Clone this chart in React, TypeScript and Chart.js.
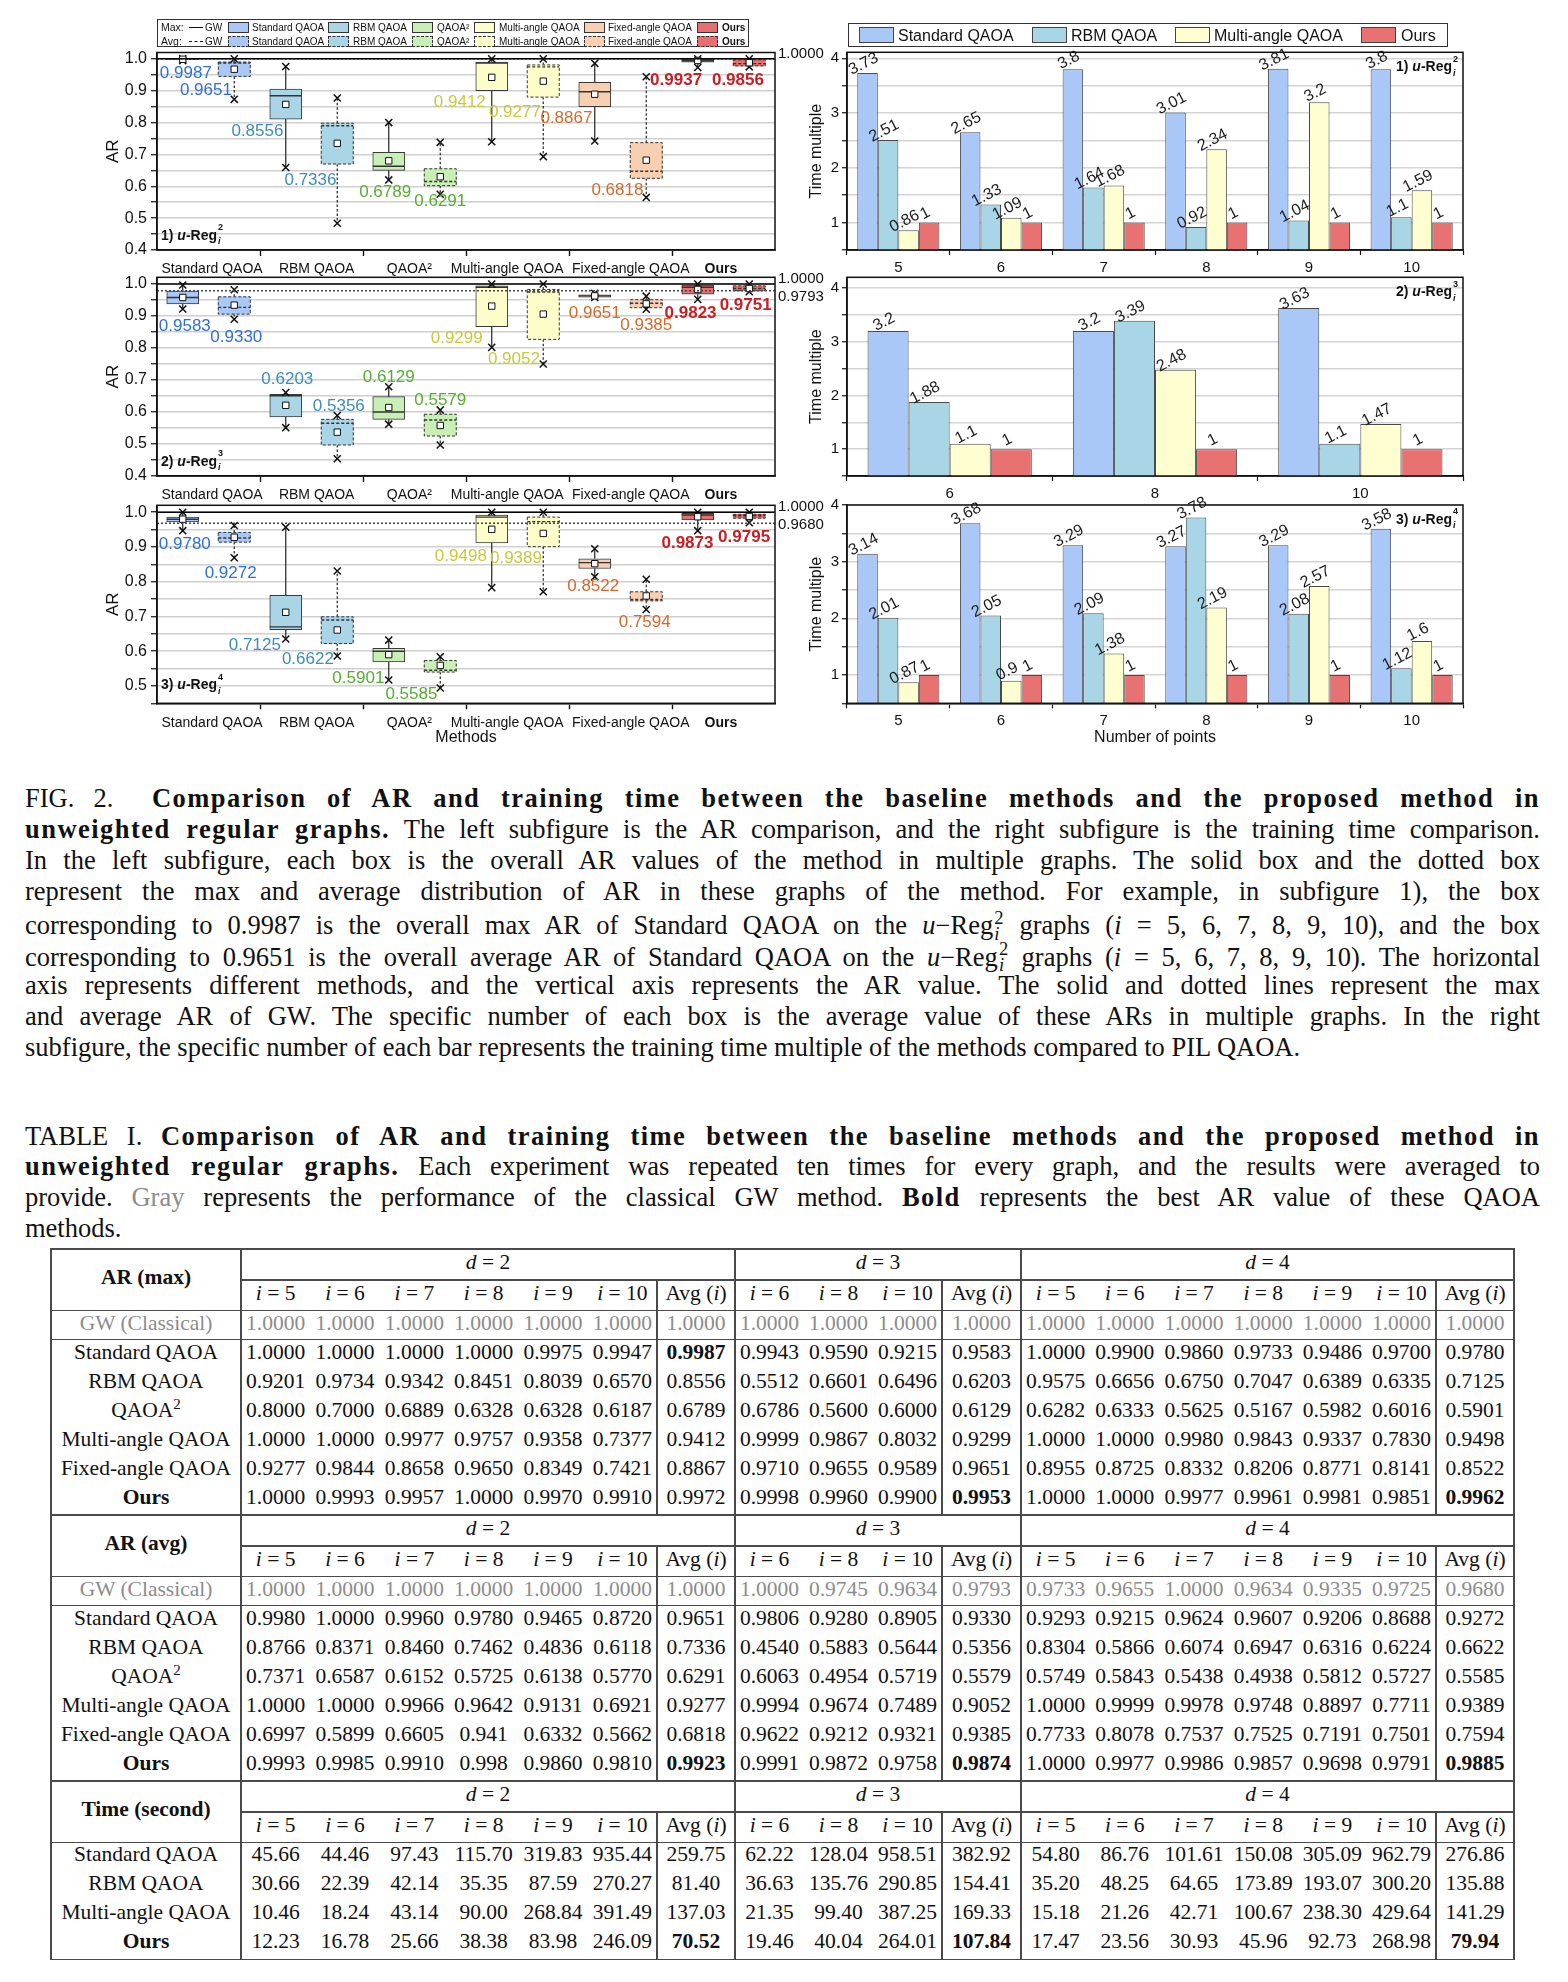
import React, { useEffect, useRef } from 'react';
import { Chart, registerables } from 'chart.js';

Chart.register(...registerables);

const SANS = '"Liberation Sans", Arial, Helvetica, sans-serif';
const SERIF = '"Liberation Serif", "Times New Roman", Times, serif';

/* ================= Figure data ================= */
const methods = ['Standard QAOA', 'RBM QAOA', 'QAOA²', 'Multi-angle QAOA', 'Fixed-angle QAOA', 'Ours'];
const methodBoxColors = ['#a9c8f5', '#a9d5e7', '#c8efb5', '#fdfdca', '#f8cfb0', '#e86f6f'];
const methodLabelColors = ['#2f6fd6', '#3d8db5', '#58ad33', '#c9c93c', '#d5692c', '#c62026'];

// box statistics per method: [min, q1, median, q3, max, mean]
const reg2MaxBoxes = [
  [0.9947, 0.998, 1.0, 1.0, 1.0, 0.9987],
  [0.659, 0.811, 0.884, 0.905, 0.976, 0.857],
  [0.62, 0.65, 0.663, 0.707, 0.8, 0.68],
  [0.74, 0.9, 0.987, 0.99, 1.0, 0.942],
  [0.742, 0.85, 0.897, 0.926, 0.986, 0.889],
  [0.973, 0.99, 0.995, 1.0, 1.0, 0.995],
];
const reg2AvgBoxes = [
  [0.873, 0.945, 0.987, 0.99, 1.0, 0.9675],
  [0.484, 0.67, 0.79, 0.798, 0.877, 0.735],
  [0.575, 0.602, 0.615, 0.655, 0.738, 0.63],
  [0.693, 0.88, 0.975, 0.981, 1.0, 0.93],
  [0.565, 0.625, 0.647, 0.737, 0.944, 0.682],
  [0.975, 0.978, 0.985, 0.997, 1.0, 0.988],
];
const reg3MaxBoxes = [
  [0.922, 0.9375, 0.958, 0.978, 0.997, 0.958],
  [0.551, 0.585, 0.651, 0.655, 0.661, 0.621],
  [0.562, 0.577, 0.6, 0.648, 0.679, 0.614],
  [0.802, 0.867, 0.99, 0.994, 1.0, 0.931],
  [0.958, 0.959, 0.963, 0.966, 0.971, 0.963],
  [0.952, 0.968, 0.99, 0.997, 1.0, 0.983],
];
const reg3AvgBoxes = [
  [0.89, 0.906, 0.927, 0.96, 0.982, 0.934],
  [0.454, 0.497, 0.565, 0.577, 0.589, 0.537],
  [0.497, 0.525, 0.575, 0.593, 0.606, 0.558],
  [0.75, 0.827, 0.975, 0.983, 1.0, 0.906],
  [0.921, 0.926, 0.94, 0.951, 0.962, 0.938],
  [0.976, 0.979, 0.986, 0.994, 1.0, 0.986],
];
const reg4MaxBoxes = [
  [0.947, 0.972, 0.98, 0.986, 1.0, 0.98],
  [0.635, 0.662, 0.67, 0.761, 0.957, 0.712],
  [0.517, 0.569, 0.6, 0.608, 0.632, 0.59],
  [0.783, 0.912, 0.986, 0.992, 1.0, 0.951],
  [0.814, 0.838, 0.855, 0.866, 0.895, 0.852],
  [0.947, 0.978, 0.992, 0.997, 1.0, 0.987],
];
const reg4AvgBoxes = [
  [0.869, 0.914, 0.926, 0.942, 0.962, 0.928],
  [0.586, 0.622, 0.69, 0.699, 0.831, 0.661],
  [0.494, 0.54, 0.545, 0.573, 0.584, 0.559],
  [0.771, 0.901, 0.973, 0.986, 1.0, 0.939],
  [0.72, 0.745, 0.749, 0.771, 0.807, 0.759],
  [0.97, 0.983, 0.99, 0.994, 1.0, 0.988],
];

const reg2MaxLabels = ['0.9987', '0.8556', '0.6789', '0.9412', '0.8867', '0.9937'];
const reg2AvgLabels = ['0.9651', '0.7336', '0.6291', '0.9277', '0.6818', '0.9856'];
const reg3MaxLabels = ['0.9583', '0.6203', '0.6129', '0.9299', '0.9651', '0.9823'];
const reg3AvgLabels = ['0.9330', '0.5356', '0.5579', '0.9052', '0.9385', '0.9751'];
const reg4MaxLabels = ['0.9780', '0.7125', '0.5901', '0.9498', '0.8522', '0.9873'];
const reg4AvgLabels = ['0.9272', '0.6622', '0.5585', '0.9389', '0.7594', '0.9795'];

const gwMaxAR = [1.0, 1.0, 1.0];
const gwAvgAR = [1.0, 0.9793, 0.968];
const gwMaxText = ['1.0000', '1.0000', '1.0000'];
const gwAvgText = ['', '0.9793', '0.9680'];

const timeSeries = ['Standard QAOA', 'RBM QAOA', 'Multi-angle QAOA', 'Ours'];
const timeColors = ['#aac8f7', '#a9d6e6', '#fefed0', '#e87171'];
const reg2Points = ['5', '6', '7', '8', '9', '10'];
const reg2TimeStandard = [3.73, 2.65, 3.8, 3.01, 3.81, 3.8];
const reg2TimeRBM = [2.51, 1.33, 1.64, 0.92, 1.04, 1.1];
const reg2TimeMulti = [0.86, 1.09, 1.68, 2.34, 3.2, 1.59];
const reg2TimeOurs = [1, 1, 1, 1, 1, 1];
const reg3Points = ['6', '8', '10'];
const reg3TimeStandard = [3.2, 3.2, 3.63];
const reg3TimeRBM = [1.88, 3.39, 1.1];
const reg3TimeMulti = [1.1, 2.48, 1.47];
const reg3TimeOurs = [1, 1, 1];
const reg4Points = ['5', '6', '7', '8', '9', '10'];
const reg4TimeStandard = [3.14, 3.68, 3.29, 3.27, 3.29, 3.58];
const reg4TimeRBM = [2.01, 2.05, 2.09, 3.78, 2.08, 1.12];
const reg4TimeMulti = [0.87, 0.9, 1.38, 2.19, 2.57, 1.6];
const reg4TimeOurs = [1, 1, 1, 1, 1, 1];

/* ================= Table data ("*" = bold) ================= */
const d2Points = [5, 6, 7, 8, 9, 10];
const d3Points = [6, 8, 10];
const d4Points = [5, 6, 7, 8, 9, 10];

const arMaxGW = ['GW (Classical)', '1.0000', '1.0000', '1.0000', '1.0000', '1.0000', '1.0000', '1.0000', '1.0000', '1.0000', '1.0000', '1.0000', '1.0000', '1.0000', '1.0000', '1.0000', '1.0000', '1.0000', '1.0000'];
const arMaxRows = [
  ['Standard QAOA', '1.0000', '1.0000', '1.0000', '1.0000', '0.9975', '0.9947', '0.9987*', '0.9943', '0.9590', '0.9215', '0.9583', '1.0000', '0.9900', '0.9860', '0.9733', '0.9486', '0.9700', '0.9780'],
  ['RBM QAOA', '0.9201', '0.9734', '0.9342', '0.8451', '0.8039', '0.6570', '0.8556', '0.5512', '0.6601', '0.6496', '0.6203', '0.9575', '0.6656', '0.6750', '0.7047', '0.6389', '0.6335', '0.7125'],
  ['QAOA²', '0.8000', '0.7000', '0.6889', '0.6328', '0.6328', '0.6187', '0.6789', '0.6786', '0.5600', '0.6000', '0.6129', '0.6282', '0.6333', '0.5625', '0.5167', '0.5982', '0.6016', '0.5901'],
  ['Multi-angle QAOA', '1.0000', '1.0000', '0.9977', '0.9757', '0.9358', '0.7377', '0.9412', '0.9999', '0.9867', '0.8032', '0.9299', '1.0000', '1.0000', '0.9980', '0.9843', '0.9337', '0.7830', '0.9498'],
  ['Fixed-angle QAOA', '0.9277', '0.9844', '0.8658', '0.9650', '0.8349', '0.7421', '0.8867', '0.9710', '0.9655', '0.9589', '0.9651', '0.8955', '0.8725', '0.8332', '0.8206', '0.8771', '0.8141', '0.8522'],
  ['Ours', '1.0000', '0.9993', '0.9957', '1.0000', '0.9970', '0.9910', '0.9972', '0.9998', '0.9960', '0.9900', '0.9953*', '1.0000', '1.0000', '0.9977', '0.9961', '0.9981', '0.9851', '0.9962*'],
];
const arAvgGW = ['GW (Classical)', '1.0000', '1.0000', '1.0000', '1.0000', '1.0000', '1.0000', '1.0000', '1.0000', '0.9745', '0.9634', '0.9793', '0.9733', '0.9655', '1.0000', '0.9634', '0.9335', '0.9725', '0.9680'];
const arAvgRows = [
  ['Standard QAOA', '0.9980', '1.0000', '0.9960', '0.9780', '0.9465', '0.8720', '0.9651', '0.9806', '0.9280', '0.8905', '0.9330', '0.9293', '0.9215', '0.9624', '0.9607', '0.9206', '0.8688', '0.9272'],
  ['RBM QAOA', '0.8766', '0.8371', '0.8460', '0.7462', '0.4836', '0.6118', '0.7336', '0.4540', '0.5883', '0.5644', '0.5356', '0.8304', '0.5866', '0.6074', '0.6947', '0.6316', '0.6224', '0.6622'],
  ['QAOA²', '0.7371', '0.6587', '0.6152', '0.5725', '0.6138', '0.5770', '0.6291', '0.6063', '0.4954', '0.5719', '0.5579', '0.5749', '0.5843', '0.5438', '0.4938', '0.5812', '0.5727', '0.5585'],
  ['Multi-angle QAOA', '1.0000', '1.0000', '0.9966', '0.9642', '0.9131', '0.6921', '0.9277', '0.9994', '0.9674', '0.7489', '0.9052', '1.0000', '0.9999', '0.9978', '0.9748', '0.8897', '0.7711', '0.9389'],
  ['Fixed-angle QAOA', '0.6997', '0.5899', '0.6605', '0.941', '0.6332', '0.5662', '0.6818', '0.9622', '0.9212', '0.9321', '0.9385', '0.7733', '0.8078', '0.7537', '0.7525', '0.7191', '0.7501', '0.7594'],
  ['Ours', '0.9993', '0.9985', '0.9910', '0.998', '0.9860', '0.9810', '0.9923*', '0.9991', '0.9872', '0.9758', '0.9874*', '1.0000', '0.9977', '0.9986', '0.9857', '0.9698', '0.9791', '0.9885*'],
];
const timeRows = [
  ['Standard QAOA', '45.66', '44.46', '97.43', '115.70', '319.83', '935.44', '259.75', '62.22', '128.04', '958.51', '382.92', '54.80', '86.76', '101.61', '150.08', '305.09', '962.79', '276.86'],
  ['RBM QAOA', '30.66', '22.39', '42.14', '35.35', '87.59', '270.27', '81.40', '36.63', '135.76', '290.85', '154.41', '35.20', '48.25', '64.65', '173.89', '193.07', '300.20', '135.88'],
  ['Multi-angle QAOA', '10.46', '18.24', '43.14', '90.00', '268.84', '391.49', '137.03', '21.35', '99.40', '387.25', '169.33', '15.18', '21.26', '42.71', '100.67', '238.30', '429.64', '141.29'],
  ['Ours', '12.23', '16.78', '25.66', '38.38', '83.98', '246.09', '70.52*', '19.46', '40.04', '264.01', '107.84*', '17.47', '23.56', '30.93', '45.96', '92.73', '268.98', '79.94*'],
];

/* ================= Layout (positions, not data) ================= */
const LEFT_CANVAS_X = 95;
const LEFT_CANVAS_W = 740;
const PLOT_LEFT = 157;
const PLOT_RIGHT = 775;
const RIGHT_CANVAS_X = 795;
const RIGHT_CANVAS_W = 673;
const BAR_LEFT = 847;
const BAR_RIGHT = 1463;
const panelFrames = [
  { top: 30, areaTop: 52.5, areaBottom: 250, bottom: 280, tagLift: 14 },
  { top: 262, areaTop: 277.3, areaBottom: 476, bottom: 506, tagLift: 14 },
  { top: 490, areaTop: 505.3, areaBottom: 703.3, bottom: 752, tagLift: 18 },
];
const methodLabelAnchors = [1.07, 3.1, 4.9, 6.8, 9.2, 10.95];
const groupTicks = [2, 4, 6, 8, 10];
// value-label anchors per slot: [x offset in slots, y in AR units]
const reg2LabelPos = [[0.06, 0.955], [-0.55, 0.9], [-0.55, 0.772], [-0.52, 0.618], [-0.07, 0.58], [0, 0.552], [-0.62, 0.864], [-0.55, 0.833], [-0.55, 0.812], [-0.56, 0.588], [-0.42, 0.932], [-0.22, 0.932]];
const reg3LabelPos = [[0.04, 0.867], [0.04, 0.835], [0.03, 0.703], [0.03, 0.617], [0, 0.708], [0, 0.637], [-0.68, 0.83], [-0.57, 0.766], [0, 0.91], [0, 0.87], [-0.14, 0.908], [-0.07, 0.934]];
const reg4LabelPos = [[0.04, 0.909], [-0.07, 0.825], [-0.6, 0.616], [-0.57, 0.577], [-0.59, 0.521], [-0.56, 0.476], [-0.6, 0.874], [-0.53, 0.866], [-0.03, 0.786], [-0.03, 0.684], [-0.2, 0.911], [-0.1, 0.927]];

function drawTag(ctx: CanvasRenderingContext2D, x: number, y: number, num: string, deg: string, anchor: 'left' | 'right') {
  ctx.save();
  ctx.fillStyle = '#111';
  ctx.textBaseline = 'middle';
  ctx.textAlign = 'left';
  const parts: [string, string][] = [
    [num + ') ', `bold 14px ${SANS}`],
    ['u', `italic bold 14px ${SANS}`],
    ['-Reg', `bold 14px ${SANS}`],
  ];
  let total = 0;
  parts.forEach(([t, f]) => { ctx.font = f; total += ctx.measureText(t).width; });
  total += 7;
  let cx = anchor === 'left' ? x : x - total;
  parts.forEach(([t, f]) => { ctx.font = f; ctx.fillText(t, cx, y); cx += ctx.measureText(t).width; });
  ctx.font = `bold 9px ${SANS}`;
  ctx.fillText(deg, cx + 1, y - 8);
  ctx.font = `italic bold 9px ${SANS}`;
  ctx.fillText('i', cx + 1, y + 6);
  ctx.restore();
}

function boxChartConfig(p: any) {
  const fr = p.frame;
  const areaLeft = PLOT_LEFT - LEFT_CANVAS_X;
  const padRight = LEFT_CANVAS_X + LEFT_CANVAS_W - PLOT_RIGHT;
  const slot = (k: number, avg: boolean) => 2 * k + (avg ? 1.5 : 0.5);
  const bars = (arr: number[][], avg: boolean) => arr.map((b, k) => ({ x: slot(k, avg), y: [b[1], b[3]] }));
  const ends: any[] = [];
  const means: any[] = [];
  [p.maxBoxes, p.avgBoxes].forEach((arr: number[][], a: number) =>
    arr.forEach((b, k) => {
      ends.push({ x: slot(k, a === 1), y: b[0] }, { x: slot(k, a === 1), y: b[4] });
      means.push({ x: slot(k, a === 1), y: b[5] });
    })
  );
  const xTicks = [...methodLabelAnchors, ...groupTicks].sort((a, b) => a - b);
  const HALF = 16;

  const plugin = {
    id: 'boxExtras',
    beforeDatasetsDraw(chart: any) {
      const { ctx, scales } = chart;
      const x = scales.x, y = scales.y;
      ctx.save();
      [p.maxBoxes, p.avgBoxes].forEach((arr: number[][], a: number) => {
        arr.forEach((b, k) => {
          const px = x.getPixelForValue(slot(k, a === 1));
          ctx.strokeStyle = '#222';
          ctx.lineWidth = 1.2;
          ctx.setLineDash(a === 1 ? [2.5, 2] : []);
          ctx.beginPath();
          ctx.moveTo(px, y.getPixelForValue(b[1]));
          ctx.lineTo(px, y.getPixelForValue(b[0]));
          ctx.moveTo(px, y.getPixelForValue(b[3]));
          ctx.lineTo(px, y.getPixelForValue(b[4]));
          ctx.stroke();
        });
      });
      ctx.restore();
    },
    afterDatasetDraw(chart: any, args: any) {
      if (args.index > 1) return;
      const avg = args.index === 1;
      const arr = avg ? p.avgBoxes : p.maxBoxes;
      const { ctx, scales } = chart;
      const x = scales.x, y = scales.y;
      ctx.save();
      arr.forEach((b: number[], k: number) => {
        const px = x.getPixelForValue(slot(k, avg));
        const t = y.getPixelForValue(b[3]);
        const bt = y.getPixelForValue(b[1]);
        const m = y.getPixelForValue(b[2]);
        ctx.strokeStyle = '#333';
        if (avg) {
          ctx.lineWidth = 1;
          ctx.setLineDash([3, 2]);
          ctx.strokeRect(px - HALF, t, HALF * 2, bt - t);
        }
        ctx.lineWidth = 1.4;
        ctx.setLineDash(avg ? [3, 2] : []);
        ctx.beginPath();
        ctx.moveTo(px - HALF, m);
        ctx.lineTo(px + HALF, m);
        ctx.stroke();
      });
      ctx.restore();
    },
    afterDatasetsDraw(chart: any) {
      const { ctx, scales, chartArea: a } = chart;
      const x = scales.x, y = scales.y;
      ctx.save();
      const yMax = y.getPixelForValue(p.gwMax);
      const yAvg = y.getPixelForValue(p.gwAvg);
      ctx.strokeStyle = '#444';
      ctx.lineWidth = 1.5;
      ctx.setLineDash([2, 2]);
      ctx.beginPath();
      ctx.moveTo(a.left, yAvg);
      ctx.lineTo(a.right, yAvg);
      ctx.stroke();
      ctx.setLineDash([]);
      ctx.strokeStyle = '#000';
      ctx.beginPath();
      ctx.moveTo(a.left, yMax);
      ctx.lineTo(a.right, yMax);
      ctx.stroke();
      ctx.strokeStyle = '#111';
      ctx.lineWidth = 1.5;
      ctx.strokeRect(a.left, a.top, a.right - a.left, a.bottom - a.top);
      ctx.font = `15px ${SANS}`;
      ctx.fillStyle = '#111';
      ctx.textAlign = 'left';
      ctx.textBaseline = 'middle';
      const l1 = yMax - 5;
      ctx.fillText(p.gwMaxText, a.right + 3, l1);
      if (p.gwAvgText) ctx.fillText(p.gwAvgText, a.right + 3, l1 + 18);
      ctx.textAlign = 'center';
      for (let s = 0; s < 12; s++) {
        const k = Math.floor(s / 2);
        const avg = s % 2 === 1;
        const text = avg ? p.avgLabels[k] : p.maxLabels[k];
        const [dx, yv] = p.labelPos[s];
        ctx.font = `${k === 5 ? 'bold ' : ''}17px ${SANS}`;
        ctx.fillStyle = methodLabelColors[k];
        ctx.fillText(text, x.getPixelForValue(s + 0.5 + dx), y.getPixelForValue(yv));
      }
      drawTag(ctx, a.left + 4, a.bottom - fr.tagLift, p.num, p.deg, 'left');
      ctx.restore();
    },
  };

  return {
    type: 'bar',
    data: {
      datasets: [
        { type: 'bar', label: 'max', data: bars(p.maxBoxes, false), backgroundColor: methodBoxColors, borderColor: '#3a3a3a', borderWidth: 1, borderSkipped: false, barThickness: HALF * 2, grouped: false, order: 3 },
        { type: 'bar', label: 'avg', data: bars(p.avgBoxes, true), backgroundColor: methodBoxColors, borderWidth: 0, barThickness: HALF * 2, grouped: false, order: 2 },
        { type: 'scatter', label: 'ends', data: ends, showLine: false, pointStyle: 'crossRot', pointRadius: 5, pointBorderColor: '#111', pointBorderWidth: 1.5, pointBackgroundColor: '#111', order: 1 },
        { type: 'scatter', label: 'mean', data: means, showLine: false, pointStyle: 'rect', pointRadius: 4.5, pointBorderColor: '#111', pointBorderWidth: 1, pointBackgroundColor: '#fff', order: 0 },
      ],
    },
    options: {
      animation: false,
      responsive: false,
      events: [],
      layout: { padding: { top: fr.areaTop - fr.top, right: padRight, left: 0, bottom: 0 } },
      plugins: { legend: { display: false }, tooltip: { enabled: false } },
      scales: {
        x: {
          type: 'linear',
          min: 0,
          max: 12,
          offset: false,
          afterFit: (s: any) => { s.height = fr.bottom - fr.areaBottom; },
          afterBuildTicks: (s: any) => { s.ticks = xTicks.map((v) => ({ value: v })); },
          ticks: {
            autoSkip: false,
            maxRotation: 0,
            minRotation: 0,
            padding: 5,
            color: '#111',
            font: (c: any) => ({ family: SANS, size: 14, weight: c.tick && c.tick.value === methodLabelAnchors[5] ? 'bold' : 'normal' }),
            callback: (v: number) => { const i = methodLabelAnchors.indexOf(v); return i >= 0 ? methods[i] : ''; },
          },
          grid: {
            offset: false,
            drawOnChartArea: false,
            tickLength: 6,
            tickWidth: 1.4,
            tickColor: (c: any) => (c.tick && groupTicks.includes(c.tick.value) ? '#111' : 'rgba(0,0,0,0)'),
          },
          border: { color: '#111', width: 1.5 },
          title: p.showTitle
            ? { display: true, text: 'Methods', color: '#111', font: { family: SANS, size: 16 }, padding: { top: 0, bottom: 4.4 } }
            : { display: false },
        },
        y: {
          type: 'linear',
          min: p.yMin,
          max: p.yMax,
          afterFit: (s: any) => { s.width = areaLeft; },
          ticks: {
            autoSkip: false,
            stepSize: 0.05,
            includeBounds: false,
            padding: 4,
            color: '#111',
            font: { family: SANS, size: 16 },
            callback: (v: number) => { const t = Math.round(v * 100); return t % 10 === 0 ? (t / 100).toFixed(1) : ''; },
          },
          grid: { color: '#cfcfcf', lineWidth: 1.5, tickLength: 6, tickWidth: 1.2, tickColor: '#111' },
          border: { color: '#111', width: 1.5 },
          title: { display: true, text: 'AR', color: '#111', font: { family: SANS, size: 17 }, padding: { top: 8, bottom: 0 } },
        },
      },
    },
    plugins: [plugin],
  };
}

function barChartConfig(p: any) {
  const fr = p.frame;
  const plugin = {
    id: 'barExtras',
    afterDatasetsDraw(chart: any) {
      const { ctx, chartArea: a } = chart;
      ctx.save();
      ctx.font = `16px ${SANS}`;
      ctx.fillStyle = '#1a1a1a';
      ctx.textAlign = 'center';
      ctx.textBaseline = 'middle';
      chart.data.datasets.forEach((ds: any, di: number) => {
        chart.getDatasetMeta(di).data.forEach((el: any, i: number) => {
          ctx.save();
          ctx.translate(el.x - 4, el.y - 9);
          ctx.rotate((-27 * Math.PI) / 180);
          ctx.fillText(String(ds.data[i]), 0, 0);
          ctx.restore();
        });
      });
      ctx.strokeStyle = '#111';
      ctx.lineWidth = 1.5;
      ctx.strokeRect(a.left, a.top, a.right - a.left, a.bottom - a.top);
      drawTag(ctx, a.right - 4, a.top + 15, p.num, p.deg, 'right');
      ctx.restore();
    },
  };
  return {
    type: 'bar',
    data: {
      labels: p.points,
      datasets: p.series.map((vals: number[], i: number) => ({
        label: timeSeries[i],
        data: vals,
        backgroundColor: timeColors[i],
        borderColor: '#4a4a4a',
        borderWidth: 1,
        borderSkipped: 'start',
      })),
    },
    options: {
      animation: false,
      responsive: false,
      events: [],
      layout: { padding: { top: fr.areaTop - fr.top, right: RIGHT_CANVAS_X + RIGHT_CANVAS_W - BAR_RIGHT, left: 0, bottom: 0 } },
      plugins: { legend: { display: false }, tooltip: { enabled: false } },
      datasets: { bar: { categoryPercentage: 0.8, barPercentage: 1.0 } },
      scales: {
        x: {
          type: 'category',
          afterFit: (s: any) => { s.height = fr.bottom - fr.areaBottom; },
          ticks: { autoSkip: false, maxRotation: 0, padding: 4, color: '#111', font: { family: SANS, size: 15 } },
          grid: { offset: true, drawOnChartArea: false, tickLength: 5, tickWidth: 1.2, tickColor: '#111' },
          border: { color: '#111', width: 1.5 },
          title: p.showTitle
            ? { display: true, text: 'Number of points', color: '#111', font: { family: SANS, size: 16 }, padding: { top: 0, bottom: 4.4 } }
            : { display: false },
        },
        y: {
          type: 'linear',
          min: 0.5,
          max: p.yMax,
          afterFit: (s: any) => { s.width = BAR_LEFT - RIGHT_CANVAS_X; },
          ticks: {
            autoSkip: false,
            stepSize: 0.5,
            includeBounds: false,
            padding: 3,
            color: '#111',
            font: { family: SANS, size: 15 },
            callback: (v: number) => (Number.isInteger(v) ? String(v) : ''),
          },
          grid: { color: '#d4d4d4', lineWidth: 1.5, tickLength: 5, tickWidth: 1.2, tickColor: '#111' },
          border: { color: '#111', width: 1.5 },
          title: { display: true, text: 'Time multiple', color: '#111', font: { family: SANS, size: 16 }, padding: { top: 12, bottom: 0 } },
        },
      },
    },
    plugins: [plugin],
  };
}

const boxPanels = [
  { maxBoxes: reg2MaxBoxes, avgBoxes: reg2AvgBoxes, maxLabels: reg2MaxLabels, avgLabels: reg2AvgLabels, labelPos: reg2LabelPos, gwMax: gwMaxAR[0], gwAvg: gwAvgAR[0], gwMaxText: gwMaxText[0], gwAvgText: gwAvgText[0], yMin: 0.4, yMax: 1.02, num: '1', deg: '2', frame: panelFrames[0], showTitle: false },
  { maxBoxes: reg3MaxBoxes, avgBoxes: reg3AvgBoxes, maxLabels: reg3MaxLabels, avgLabels: reg3AvgLabels, labelPos: reg3LabelPos, gwMax: gwMaxAR[1], gwAvg: gwAvgAR[1], gwMaxText: gwMaxText[1], gwAvgText: gwAvgText[1], yMin: 0.4, yMax: 1.021, num: '2', deg: '3', frame: panelFrames[1], showTitle: false },
  { maxBoxes: reg4MaxBoxes, avgBoxes: reg4AvgBoxes, maxLabels: reg4MaxLabels, avgLabels: reg4AvgLabels, labelPos: reg4LabelPos, gwMax: gwMaxAR[2], gwAvg: gwAvgAR[2], gwMaxText: gwMaxText[2], gwAvgText: gwAvgText[2], yMin: 0.45, yMax: 1.02, num: '3', deg: '4', frame: panelFrames[2], showTitle: true },
];

const barPanels = [
  { points: reg2Points, series: [reg2TimeStandard, reg2TimeRBM, reg2TimeMulti, reg2TimeOurs], yMax: 4.11, num: '1', deg: '2', frame: { top: 30, areaTop: 52.3, areaBottom: 250, bottom: 280 }, showTitle: false },
  { points: reg3Points, series: [reg3TimeStandard, reg3TimeRBM, reg3TimeMulti, reg3TimeOurs], yMax: 4.2, num: '2', deg: '3', frame: { top: 262, areaTop: 277.3, areaBottom: 476, bottom: 506 }, showTitle: false },
  { points: reg4Points, series: [reg4TimeStandard, reg4TimeRBM, reg4TimeMulti, reg4TimeOurs], yMax: 4.0, num: '3', deg: '4', frame: { top: 490, areaTop: 505, areaBottom: 703.3, bottom: 752 }, showTitle: true },
];

function ChartCanvas({ left, top, width, height, make }: any) {
  const ref = useRef<HTMLCanvasElement>(null);
  useEffect(() => {
    const chart = new Chart(ref.current as HTMLCanvasElement, make());
    return () => chart.destroy();
  }, []);
  return <canvas ref={ref} width={width} height={height} style={{ position: 'absolute', left, top, width, height }} />;
}

/* ================= Legends ================= */
function LeftLegend() {
  const sw = [70, 170, 254, 316, 426, 539];
  const tx = [94, 195, 279, 341, 450, 564];
  const rows = [
    { label: 'Max:', dash: false, y: 7 },
    { label: 'Avg:', dash: true, y: 21.5 },
  ];
  return (
    <div style={{ position: 'absolute', left: 157, top: 19, width: 592, height: 28, border: '1px solid #333', boxSizing: 'border-box', fontFamily: SANS, fontSize: 10, color: '#111', background: '#fff' }}>
      {rows.map((r, ri) => (
        <React.Fragment key={ri}>
          <span style={{ position: 'absolute', left: 3, top: r.y - 6.5, fontSize: 10.5, lineHeight: '13px' }}>{r.label}</span>
          <span style={{ position: 'absolute', left: 31, top: r.y - 0.5, width: 14, height: 0, borderTop: r.dash ? '1px dashed #111' : '1.3px solid #111' }} />
          <span style={{ position: 'absolute', left: 47, top: r.y - 6.5, lineHeight: '13px' }}>GW</span>
          {methods.map((m, k) => (
            <React.Fragment key={k}>
              <span style={{ position: 'absolute', left: sw[k], top: r.y - 5.5, width: 21, height: 11, boxSizing: 'border-box', background: methodBoxColors[k], border: r.dash ? '1px dashed #333' : '1px solid #333' }} />
              <span style={{ position: 'absolute', left: tx[k], top: r.y - 6.5, lineHeight: '13px', fontWeight: k === 5 ? 'bold' : 'normal' }}>{m}</span>
            </React.Fragment>
          ))}
        </React.Fragment>
      ))}
    </div>
  );
}

function RightLegend() {
  const sw = [10, 183, 326, 512];
  const tx = [49, 222, 365, 552];
  return (
    <div style={{ position: 'absolute', left: 848, top: 23, width: 600, height: 24, border: '1px solid #333', boxSizing: 'border-box', fontFamily: SANS, fontSize: 16, color: '#111', background: '#fff' }}>
      {timeSeries.map((s, k) => (
        <React.Fragment key={k}>
          <span style={{ position: 'absolute', left: sw[k], top: 3, width: 35, height: 16, boxSizing: 'border-box', background: timeColors[k], border: '1px solid #444' }} />
          <span style={{ position: 'absolute', left: tx[k], top: 1.5, lineHeight: '19px' }}>{s}</span>
        </React.Fragment>
      ))}
    </div>
  );
}

/* ================= Captions ================= */
const CAP_LEFT = 25;
const CAP_WIDTH = 1515;
const CAP_FONT = 26.5;

const Scr = ({ sup, sub }: any) => (
  <span style={{ position: 'relative', display: 'inline-block', width: '0.42em', height: '1em' }}>
    <span style={{ position: 'absolute', left: '0.06em', top: '0.09em', fontSize: '0.7em', lineHeight: 1 }}>{sup}</span>
    <span style={{ position: 'absolute', left: '0.06em', top: '0.95em', fontSize: '0.7em', lineHeight: 1, fontStyle: 'italic' }}>{sub}</span>
  </span>
);
const B = ({ children }: any) => <b style={{ letterSpacing: '0.055em' }}>{children}</b>;
const UReg = () => (<><i>u</i>−Reg<Scr sup="2" sub="i" /></>);

function CaptionLines({ lines, top, step, lastJustified }: any) {
  return (
    <>
      {lines.map((ln: any, i: number) => {
        const last = i === lines.length - 1 && !lastJustified;
        return (
          <div key={i} style={{ position: 'absolute', left: CAP_LEFT, width: CAP_WIDTH, top: top + i * step - step / 2 - 2, height: step, lineHeight: step + 'px', fontSize: CAP_FONT, fontFamily: SERIF, color: '#111', textAlign: last ? 'left' : 'justify', textAlignLast: last ? 'left' : 'justify', whiteSpace: 'normal' } as any}>
            {ln}
          </div>
        );
      })}
    </>
  );
}

const figLines = [
  <>FIG. 2.&nbsp;&nbsp;<B>Comparison of AR and training time between the baseline methods and the proposed method in</B></>,
  <><B>unweighted regular graphs.</B> The left subfigure is the AR comparison, and the right subfigure is the training time comparison.</>,
  <>In the left subfigure, each box is the overall AR values of the method in multiple graphs. The solid box and the dotted box</>,
  <>represent the max and average distribution of AR in these graphs of the method. For example, in subfigure 1), the box</>,
  <>corresponding to 0.9987 is the overall max AR of Standard QAOA on the <UReg /> graphs (<i>i</i> = 5, 6, 7, 8, 9, 10), and the box</>,
  <>corresponding to 0.9651 is the overall average AR of Standard QAOA on the <UReg /> graphs (<i>i</i> = 5, 6, 7, 8, 9, 10). The horizontal</>,
  <>axis represents different methods, and the vertical axis represents the AR value. The solid and dotted lines represent the max</>,
  <>and average AR of GW. The specific number of each box is the average value of these ARs in multiple graphs. In the right</>,
  <>subfigure, the specific number of each bar represents the training time multiple of the methods compared to PIL QAOA.</>,
];

const tableLines = [
  <>TABLE I. <B>Comparison of AR and training time between the baseline methods and the proposed method in</B></>,
  <><B>unweighted regular graphs.</B> Each experiment was repeated ten times for every graph, and the results were averaged to</>,
  <>provide. <span style={{ color: '#8c8c8c' }}>Gray</span> represents the performance of the classical GW method. <B>Bold</B> represents the best AR value of these QAOA</>,
  <>methods.</>,
];

/* ================= Table ================= */
const COL_EDGES = [51, 241, 310.3, 379.7, 449, 518.3, 587.7, 657, 735, 804, 873, 942, 1021, 1090.2, 1159.4, 1228.6, 1297.8, 1367, 1436, 1514];
const T_FONT = 21.5;
const LINE_COLOR = '#4a4a4a';
const GRAY = '#8c8c8c';

const colCenter = (j: number) => (COL_EDGES[j + 1] + COL_EDGES[j + 2]) / 2;

function Cell({ x, y, children, color, bold }: any) {
  return (
    <div style={{ position: 'absolute', left: x, top: y, transform: 'translate(-50%, calc(-50% - 2px))', whiteSpace: 'nowrap', fontFamily: SERIF, fontSize: T_FONT, lineHeight: 1, color: color || '#111', fontWeight: bold ? 'bold' : 'normal' }}>
      {children}
    </div>
  );
}

function RowName({ name }: any) {
  if (name === 'QAOA²') return <>QAOA<sup style={{ fontSize: '0.7em', verticalAlign: '0.55em', lineHeight: 0 }}>2</sup></>;
  return <>{name}</>;
}

function TableSection({ top, title, gw, rows }: any) {
  const els: React.ReactNode[] = [];
  const L = COL_EDGES[0];
  const R = COL_EDGES[COL_EDGES.length - 1];
  const line1 = top + 31;
  const line2 = top + 61.5;
  const line3 = top + 90.5;
  const firstData = gw ? top + 105.5 : top + 76;
  const STEP = 29.1;
  const bottom = firstData + (rows.length - 1) * STEP + 15.3;
  const hl = (y: number, x1: number, x2: number, key: string) => (
    <div key={key} style={{ position: 'absolute', left: x1 - 0.75, top: y - 0.75, width: x2 - x1 + 1.5, height: 1.5, background: LINE_COLOR }} />
  );
  const vl = (x: number, y1: number, y2: number, key: string) => (
    <div key={key} style={{ position: 'absolute', left: x - 0.75, top: y1, width: 1.5, height: y2 - y1, background: LINE_COLOR }} />
  );
  els.push(hl(top, L, R, 't'), hl(line1, COL_EDGES[1], R, 'l1'), hl(line2, L, R, 'l2'), hl(bottom, L, R, 'b'));
  if (gw) els.push(hl(line3, L, R, 'l3'));
  [COL_EDGES[0], COL_EDGES[1], COL_EDGES[8], COL_EDGES[12], COL_EDGES[19]].forEach((x, i) => els.push(vl(x, top, bottom, 'v' + i)));
  [COL_EDGES[7], COL_EDGES[11], COL_EDGES[18]].forEach((x, i) => els.push(vl(x, line1, bottom, 'w' + i)));

  els.push(<Cell key="title" x={(COL_EDGES[0] + COL_EDGES[1]) / 2} y={top + 31} bold>{title}</Cell>);
  const dy = top + 15.5;
  els.push(<Cell key="d2" x={(COL_EDGES[1] + COL_EDGES[8]) / 2} y={dy}><i>d</i> = 2</Cell>);
  els.push(<Cell key="d3" x={(COL_EDGES[8] + COL_EDGES[12]) / 2} y={dy}><i>d</i> = 3</Cell>);
  els.push(<Cell key="d4" x={(COL_EDGES[12] + COL_EDGES[19]) / 2} y={dy}><i>d</i> = 4</Cell>);
  const heads: any[] = [...d2Points, 'avg', ...d3Points, 'avg', ...d4Points, 'avg'];
  heads.forEach((h, j) => {
    els.push(
      <Cell key={'h' + j} x={colCenter(j)} y={top + 47}>
        {h === 'avg' ? <>Avg (<i>i</i>)</> : <><i>i</i> = {h}</>}
      </Cell>
    );
  });
  const renderRow = (row: string[], y: number, color: string | undefined, key: string) => {
    els.push(
      <Cell key={key + 'n'} x={(COL_EDGES[0] + COL_EDGES[1]) / 2} y={y} color={color} bold={row[0] === 'Ours'}>
        <RowName name={row[0]} />
      </Cell>
    );
    row.slice(1).forEach((v, j) => {
      const bold = v.endsWith('*');
      els.push(<Cell key={key + j} x={colCenter(j)} y={y} color={color} bold={bold}>{bold ? v.slice(0, -1) : v}</Cell>);
    });
  };
  if (gw) renderRow(gw, top + 76.5, GRAY, 'gw');
  rows.forEach((r: string[], i: number) => renderRow(r, firstData + i * STEP, undefined, 'r' + i));
  return <>{els}</>;
}

export default function App() {
  return (
    <div style={{ position: 'absolute', left: 0, top: 0, width: 1568, height: 1982, overflow: 'hidden', background: '#fff', color: '#111' }}>
      {boxPanels.map((p, i) => (
        <ChartCanvas key={'box' + i} left={LEFT_CANVAS_X} top={p.frame.top} width={LEFT_CANVAS_W} height={p.frame.bottom - p.frame.top} make={() => boxChartConfig(p)} />
      ))}
      {barPanels.map((p, i) => (
        <ChartCanvas key={'bar' + i} left={RIGHT_CANVAS_X} top={p.frame.top} width={RIGHT_CANVAS_W} height={p.frame.bottom - p.frame.top} make={() => barChartConfig(p)} />
      ))}
      <LeftLegend />
      <RightLegend />
      <CaptionLines lines={figLines} top={800.4} step={31.15} lastJustified={false} />
      <CaptionLines lines={tableLines} top={1138} step={30.8} lastJustified={false} />
      <TableSection top={1249} title="AR (max)" gw={arMaxGW} rows={arMaxRows} />
      <TableSection top={1515} title="AR (avg)" gw={arAvgGW} rows={arAvgRows} />
      <TableSection top={1781} title="Time (second)" gw={null} rows={timeRows} />
    </div>
  );
}
